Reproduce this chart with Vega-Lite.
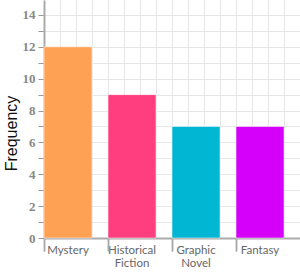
{
  "$schema": "https://vega.github.io/schema/vega-lite/v6.json",
  "width": 256,
  "height": 238,
  "autosize": {"type": "none"},
  "padding": {"left": 44, "top": 0, "right": 0, "bottom": 37},
  "background": "white",
  "config": {"view": {"stroke": null}},
  "data": {"values": [
    {"genre": "Mystery", "frequency": 12},
    {"genre": "Historical Fiction", "frequency": 9},
    {"genre": "Graphic Novel", "frequency": 7},
    {"genre": "Fantasy", "frequency": 7}
  ]},
  "layer": [
    {
      "data": {"values": [{}]},
      "mark": {"type": "rule", "opacity": 0},
      "encoding": {
        "x": {"datum": 0, "type": "quantitative",
          "scale": {"domain": [0, 16], "nice": false, "zero": false},
          "axis": {"orient": "bottom", "values": [0,1,2,3,4,5,6,7,8,9,10,11,12,13,14,15,16], "grid": true, "gridColor": "#e6e6e6", "gridWidth": 1,
            "labels": false, "ticks": false, "domain": false, "title": null}}
      }
    },
    {
      "mark": {"type": "bar", "stroke": "#ffffff", "strokeOpacity": 0.5, "strokeWidth": 1},
      "encoding": {
        "x": {"field": "genre", "type": "nominal", "sort": null,
          "scale": {"paddingInner": 0.25, "paddingOuter": 0.125, "align": 0},
          "axis": {"orient": "bottom", "title": null, "ticks": false, "grid": false, "domain": true, "domainColor": "#aaaaaa", "domainWidth": 2,
            "labelAngle": 0, "labelExpr": "split(datum.label, ' ')", "labelFont": "Lato", "labelFontSize": 11.5,
            "labelColor": "#666666", "labelPadding": 6, "labelLineHeight": 13.5}},
        "y": {"field": "frequency", "type": "quantitative",
          "scale": {"domain": [0, 14.94], "nice": false},
          "axis": {"values": [0,1,2,3,4,5,6,7,8,9,10,11,12,13,14],
            "labelExpr": "datum.value % 2 == 0 ? datum.label : ''",
            "grid": true, "gridColor": "#e6e6e6", "gridWidth": 1,
            "tickColor": "#999999", "tickSize": 6, "tickWidth": 1,
            "domainColor": "#aaaaaa", "domainWidth": 2,
            "labelFont": "Liberation Serif", "labelFontSize": 13, "labelFontWeight": "bold", "labelColor": "#888888", "labelPadding": 3,
            "title": "Frequency", "titleFont": "Liberation Sans", "titleFontSize": 16, "titleFontWeight": "normal",
            "titleColor": "#111111", "titlePadding": 3, "titleY": 133}},
        "color": {"field": "genre", "type": "nominal",
          "scale": {"domain": ["Mystery", "Historical Fiction", "Graphic Novel", "Fantasy"],
            "range": ["#FFA155", "#FF3E80", "#00B6D3", "#D500F9"]},
          "legend": null}
      }
    },
    {
      "mark": {"type": "point", "opacity": 0},
      "encoding": {
        "x": {"field": "genre", "type": "nominal", "sort": null,
          "scale": {"paddingInner": 0.25, "paddingOuter": 0.125, "align": 0},
          "axis": {"orient": "bottom", "title": null, "bandPosition": 0, "labels": false, "domain": false, "grid": false,
            "ticks": true, "tickSize": 13, "tickColor": "#aaaaaa", "tickWidth": 1.5}}
      }
    },
    {
      "mark": {"type": "point", "opacity": 0},
      "encoding": {
        "x": {"field": "genre", "type": "nominal", "sort": null,
          "scale": {"paddingInner": 0.25, "paddingOuter": 0.125, "align": 0},
          "axis": {"orient": "bottom", "title": null, "bandPosition": 1, "labels": false, "domain": false, "grid": false,
            "ticks": true, "tickSize": 13, "tickColor": "#aaaaaa", "tickWidth": 1.5}}
      }
    }
  ],
  "resolve": {"scale": {"x": "independent"}, "axis": {"x": "independent"}}
}
